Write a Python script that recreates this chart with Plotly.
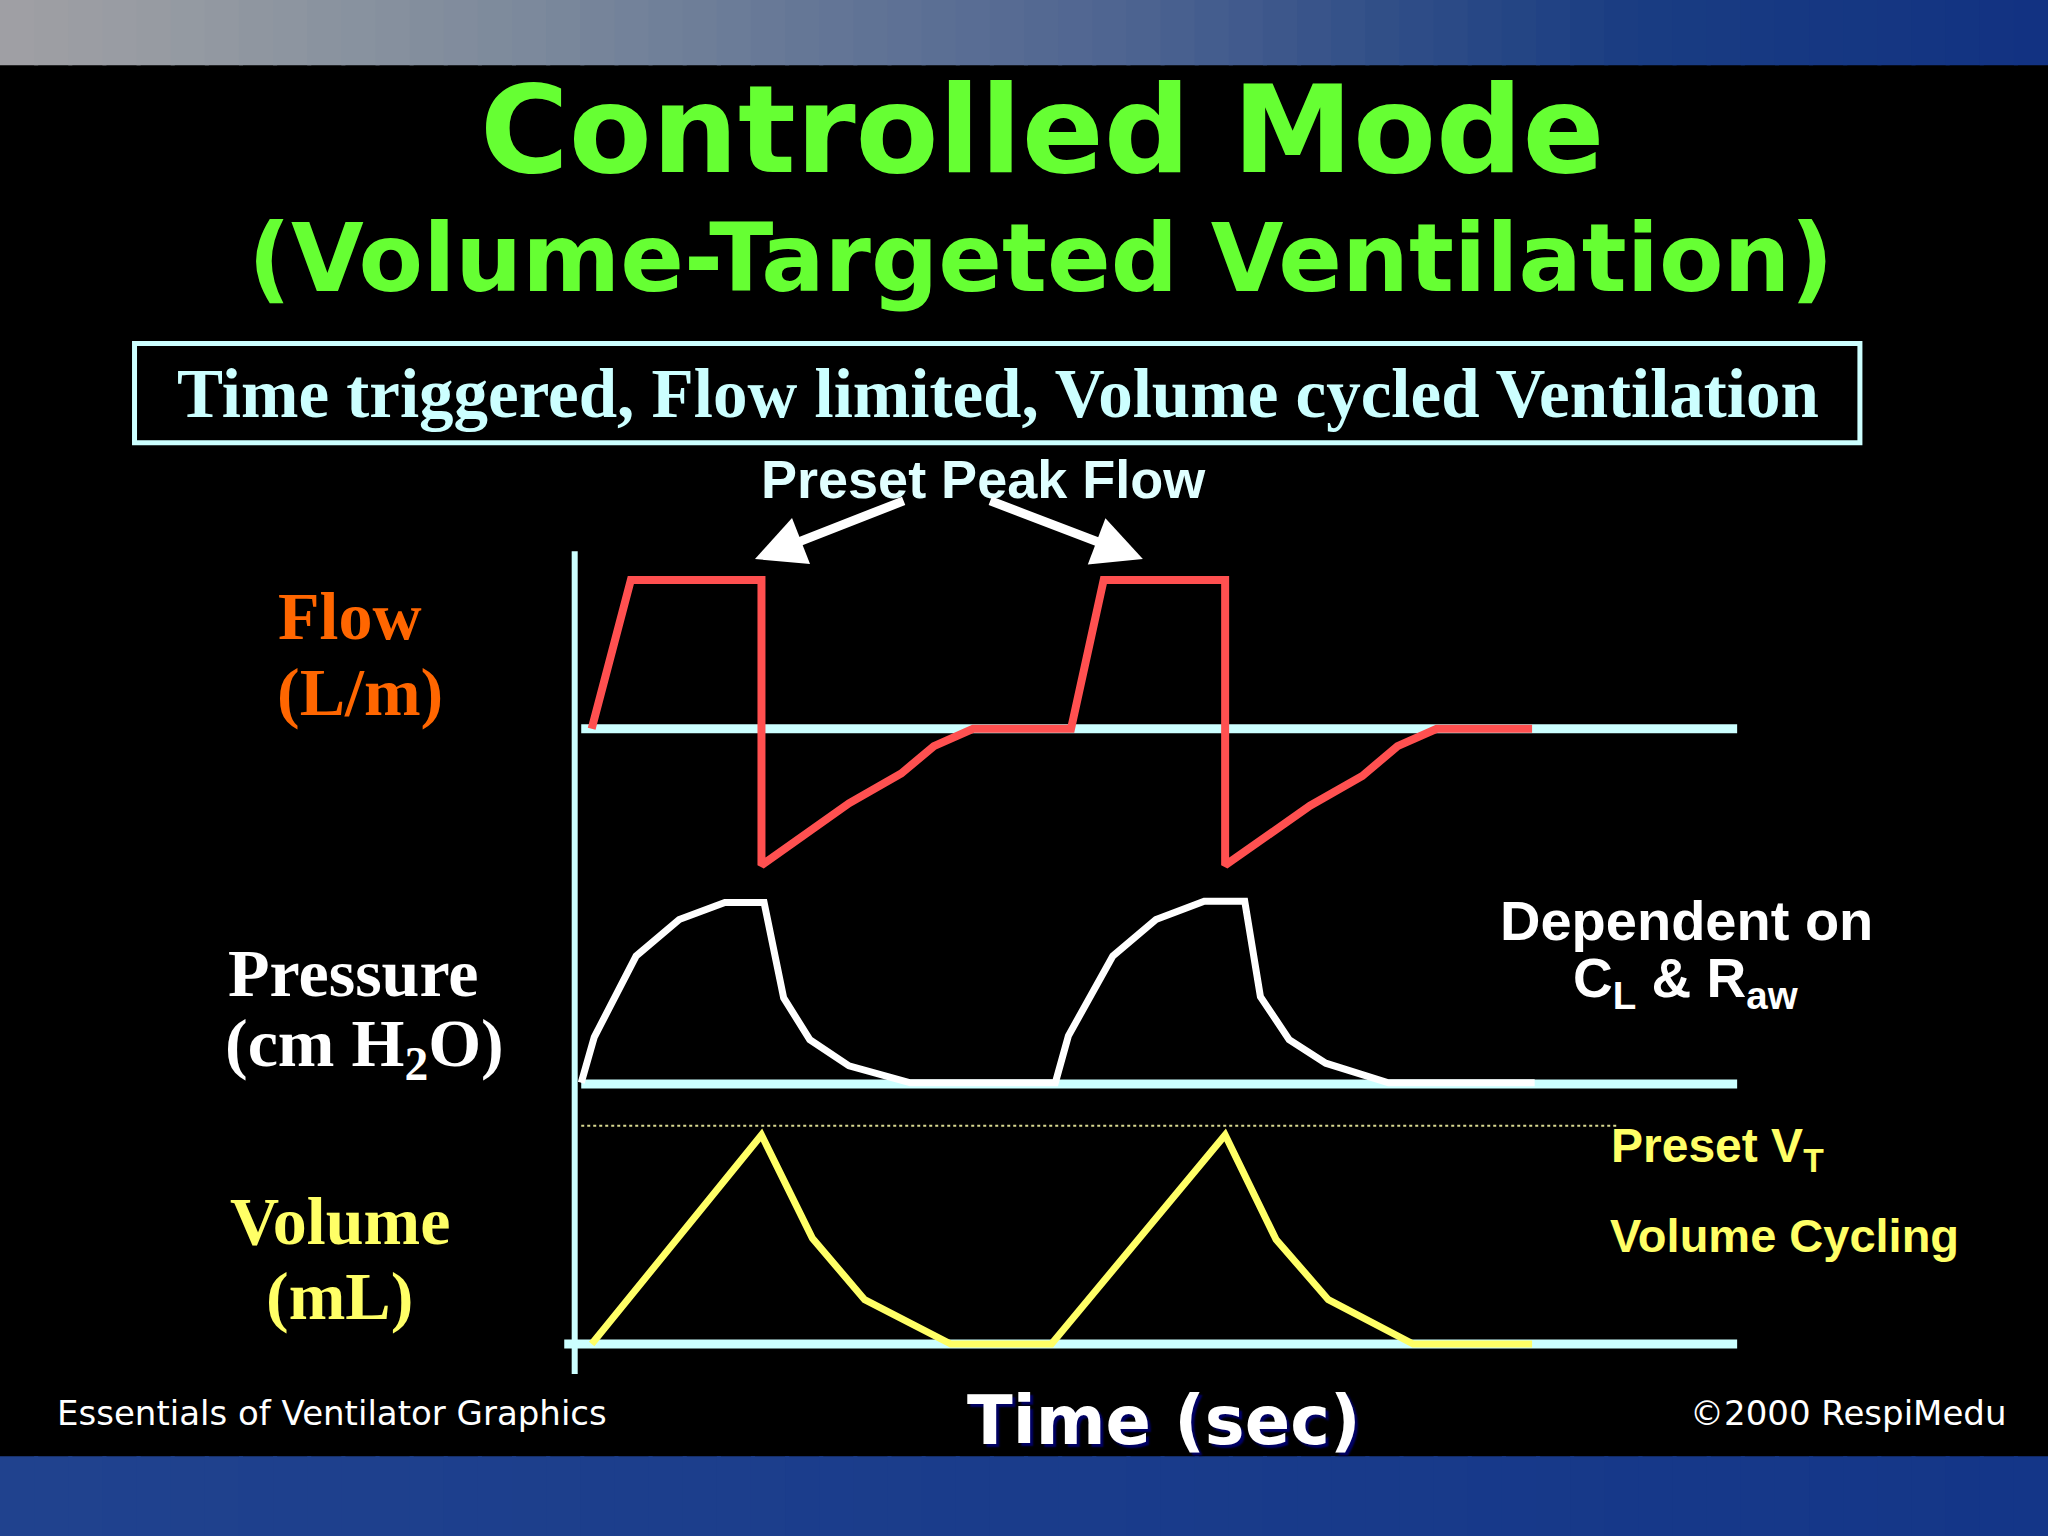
import plotly.graph_objects as go

# waveform data (time in sec, schematic units)
flow_t = [0.08, 0.38, 1.38, 1.38, 2.05, 2.45, 2.70, 3.00, 3.75, 4.00, 4.93, 4.93, 5.58, 5.98, 6.25, 6.55, 7.28]
flow_v = [0, 60, 60, -55, -30, -18, -7, 0, 0, 60, 60, -55, -31, -19, -7, 0, 0]

pres_t = [0.00, 0.10, 0.42, 0.75, 1.10, 1.40, 1.55, 1.75, 2.05, 2.52, 3.63,
          3.63, 3.73, 4.07, 4.40, 4.77, 5.08, 5.20, 5.42, 5.70, 6.18, 7.30]
pres_v = [0.2, 7.2, 19.6, 25.2, 27.8, 27.8, 13.2, 6.8, 2.8, 0.2, 0.2,
          0.2, 7.4, 19.6, 25.2, 28.0, 28.0, 13.4, 6.8, 3.2, 0.2, 0.2]

vol_t = [0.08, 1.38, 1.77, 2.17, 2.83, 3.60, 4.93, 5.32, 5.72, 6.37, 7.28]
vol_v = [0, 500, 253, 106, 0, 0, 500, 250, 106, 0, 0]

preset_vt = 522
t_end = 8.85

W, H = 2048, 1536
RW, RH = 1568.0, 1176.0  # layout measured on a 1568x1176 grid


def px(x):
    return x / RW


def py(y):
    return 1 - y / RH


def yaxis_cfg(top, bottom, base, scale):
    return dict(domain=[py(bottom), py(top)],
                range=[-(bottom - base) / scale, (base - top) / scale],
                visible=False, fixedrange=True)


CYAN = "#ccffff"
RED = "#ff5050"
YELLOW = "#ffff66"

fig = go.Figure()
fig.add_trace(go.Scatter(x=flow_t, y=flow_v, mode="lines", xaxis="x", yaxis="y",
                         line=dict(color=RED, width=8), hoverinfo="skip"))
fig.add_trace(go.Scatter(x=pres_t, y=pres_v, mode="lines", xaxis="x", yaxis="y2",
                         line=dict(color="white", width=7), hoverinfo="skip"))
fig.add_trace(go.Scatter(x=vol_t, y=vol_v, mode="lines", xaxis="x", yaxis="y3",
                         line=dict(color=YELLOW, width=7), hoverinfo="skip"))

shapes = []
# gradient band at top
top_stops = [(0.0, (160, 160, 164)), (0.08, (150, 155, 162)), (0.25, (125, 138, 156)),
             (0.4, (100, 118, 150)), (0.55, (78, 100, 145)), (0.68, (48, 78, 135)),
             (0.8, (25, 60, 130)), (1.0, (18, 50, 130))]


def grad(stops, f):
    for (a, ca), (b, cb) in zip(stops[:-1], stops[1:]):
        if a <= f <= b:
            k = (f - a) / (b - a)
            return "rgb(%d,%d,%d)" % tuple(round(ca[i] + (cb[i] - ca[i]) * k) for i in range(3))
    return "rgb(%d,%d,%d)" % stops[-1][1]


n = 60
for i in range(n):
    shapes.append(dict(type="rect", xref="paper", yref="paper", x0=i / n, x1=(i + 1) / n + 0.002,
                       y0=py(50), y1=1, fillcolor=grad(top_stops, (i + 0.5) / n), line=dict(width=0),
                       layer="below"))
bot_stops = [(0.0, (32, 66, 142)), (1.0, (20, 54, 136))]
for i in range(n):
    shapes.append(dict(type="rect", xref="paper", yref="paper", x0=i / n, x1=(i + 1) / n + 0.002,
                       y0=0, y1=py(1115), fillcolor=grad(bot_stops, (i + 0.5) / n), line=dict(width=0),
                       layer="below"))

# subtitle box
shapes.append(dict(type="rect", xref="paper", yref="paper", x0=px(103), x1=px(1424),
                   y0=py(339), y1=py(263), line=dict(color=CYAN, width=5)))
# baselines
shapes.append(dict(type="line", xref="x", yref="y", x0=0, x1=t_end, y0=0, y1=0,
                   line=dict(color=CYAN, width=9), layer="below"))
shapes.append(dict(type="line", xref="x", yref="y2", x0=0, x1=t_end, y0=0, y1=0,
                   line=dict(color=CYAN, width=9), layer="below"))
shapes.append(dict(type="line", xref="x", yref="y3", x0=-0.13, x1=t_end, y0=0, y1=0,
                   line=dict(color=CYAN, width=9), layer="below"))
shapes.append(dict(type="line", xref="x", yref="y3", x0=0, x1=7.93, y0=preset_vt, y1=preset_vt,
                   line=dict(color="#d8d890", width=2, dash="dot"), layer="below"))
# vertical axis
shapes.append(dict(type="line", xref="paper", yref="paper", x0=px(440), x1=px(440),
                   y0=py(1052), y1=py(422), line=dict(color=CYAN, width=6)))

SERIF = "Liberation Serif"
SANS = "Liberation Sans"
VERD = "DejaVu Sans"


def txt(s, x, y, size, color, family, weight="bold", xanchor="center", **kw):
    return dict(text=s, x=px(x), y=py(y), xref="paper", yref="paper", showarrow=False,
                xanchor=xanchor, yanchor="middle",
                font=dict(size=size, color=color, family=family, weight=weight, **kw))


GREEN = "#66ff33"
ann = [
    txt("Controlled Mode", 798, 100, 121, GREEN, VERD),
    txt("(Volume-Targeted Ventilation)", 797, 198, 94, GREEN, VERD),
    txt("Time triggered, Flow limited, Volume cycled Ventilation", 764, 302, 69, CYAN, SERIF),
    txt("Preset Peak Flow", 753, 367, 54, "#e0ffff", SANS),
    txt("Flow", 268, 472, 68, "#ff6600", SERIF),
    txt("(L/m)", 276, 530, 68, "#ff6600", SERIF),
    txt("Pressure", 271, 745, 68, "white", SERIF),
    txt("(cm H<sub>2</sub>O)", 279, 802, 68, "white", SERIF),
    txt("Volume", 260, 935, 68, YELLOW, SERIF),
    txt("(mL)", 260, 992, 68, YELLOW, SERIF),
    txt("Dependent on", 1291, 705, 56, "white", SANS),
    txt("C<sub>L</sub> & R<sub>aw</sub>", 1291, 752, 55, "white", SANS),
    txt("Preset V<sub>T</sub>", 1315, 880, 48, YELLOW, SANS),
    txt("Volume Cycling", 1366, 946, 47, YELLOW, SANS),
    txt("Essentials of Ventilator Graphics", 42, 1082, 34, "white", VERD, weight="normal",
        xanchor="left"),
    txt("\u00a92000 RespiMedu", 1537, 1082, 34, "white", VERD, weight="normal", xanchor="right"),
    txt("Time (sec)", 891, 1088, 67, "white", VERD, shadow="3px 3px 2px #000066"),
]
# arrows pointing at the preset peak flow plateaus
sc = W / RW
for head, tail in [((578, 428), (693, 383)), ((875, 428), (757, 383))]:
    ann.append(dict(x=px(head[0]), y=py(head[1]), xref="paper", yref="paper", text="",
                    showarrow=True, arrowhead=2, arrowsize=1.1, arrowwidth=9,
                    arrowcolor="white", ax=(tail[0] - head[0]) * sc, ay=(tail[1] - head[1]) * sc,
                    axref="pixel", ayref="pixel"))

fig.update_layout(
    width=W, height=H,
    margin=dict(l=0, r=0, t=0, b=0),
    paper_bgcolor="black", plot_bgcolor="rgba(0,0,0,0)",
    showlegend=False,
    xaxis=dict(domain=[px(430), px(1335)], range=[-0.15, 8.90], visible=False, fixedrange=True),
    yaxis=yaxis_cfg(415, 705, 558, 1.9),
    yaxis2=yaxis_cfg(675, 845, 830, 5.0),
    yaxis3=yaxis_cfg(850, 1045, 1029, 0.32),
    shapes=shapes,
    annotations=ann,
)

fig.write_html("out.html", config={"displayModeBar": False},
               post_script="document.body.style.margin='0';document.body.style.background='black';")
